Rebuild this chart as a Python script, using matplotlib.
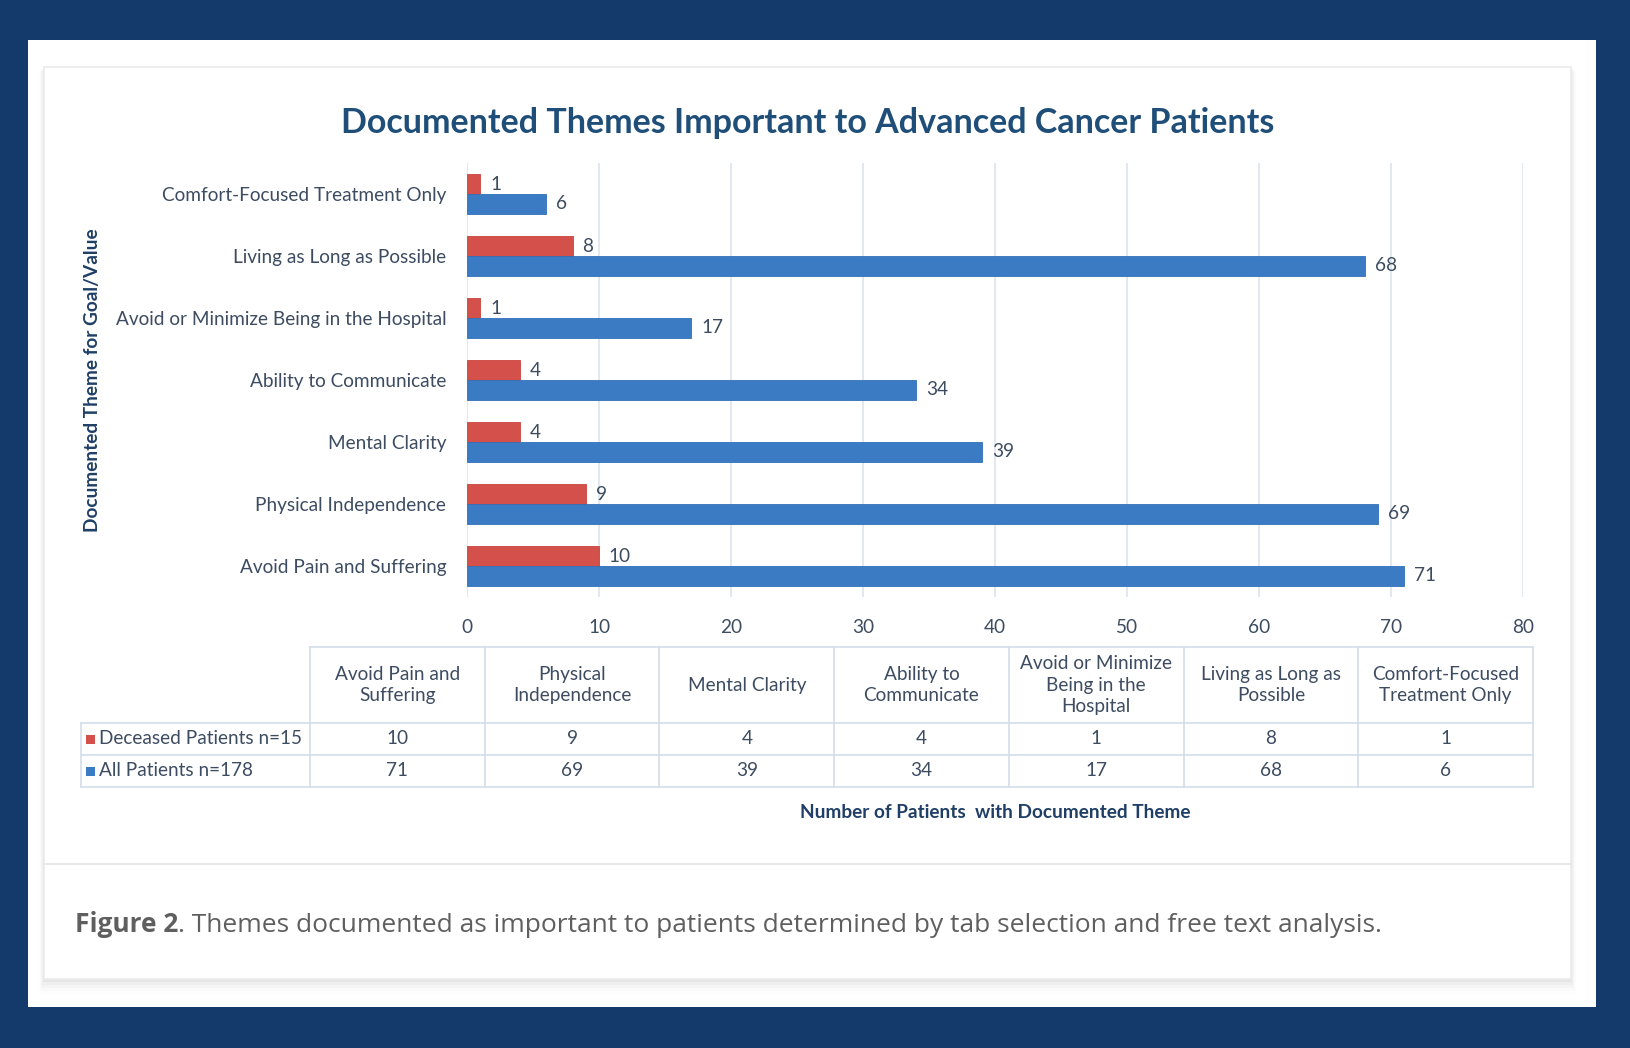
import matplotlib
matplotlib.use("Agg")
import matplotlib.pyplot as plt
from matplotlib.patches import Rectangle
import numpy as np

# ---------------- data ----------------
categories = ["Avoid Pain and Suffering", "Physical Independence", "Mental Clarity",
              "Ability to Communicate", "Avoid or Minimize Being in the Hospital",
              "Living as Long as Possible", "Comfort-Focused Treatment Only"]
table_headers = ["Avoid Pain and\nSuffering", "Physical\nIndependence", "Mental Clarity",
                 "Ability to\nCommunicate", "Avoid or Minimize\nBeing in the\nHospital",
                 "Living as Long as\nPossible", "Comfort-Focused\nTreatment Only"]
deceased = [10, 9, 4, 4, 1, 8, 1]
all_patients = [71, 69, 39, 34, 17, 68, 6]
series_names = ["Deceased Patients n=15", "All Patients n=178"]
x_ticks = [0, 10, 20, 30, 40, 50, 60, 70, 80]

title = "Documented Themes Important to Advanced Cancer Patients"
xlabel = "Number of Patients  with Documented Theme"
ylabel = "Documented Theme for Goal/Value"
caption_bold = "Figure 2"
caption_rest = ". Themes documented as important to patients determined by tab selection and free text analysis."

# ---------------- style ----------------
NAVY = "#143a6c"
RED = "#d4504b"
BLUE = "#3b7bc3"
GRID = "#d9e2eb"
TXT = "#3d4c61"
TITLE_C = "#1f4e79"
FONT = "Lato"
FS = 13.7

W, H = 1630, 1048
fig = plt.figure(figsize=(W / 100, H / 100), dpi=100)
fig.patch.set_facecolor(NAVY)

bg = fig.add_axes([0, 0, 1, 1])
bg.set_xlim(0, W)
bg.set_ylim(H, 0)
bg.axis("off")
bg.set_zorder(0)

# white card
bg.add_patch(Rectangle((28, 40), 1596 - 28, 1007 - 40, facecolor="white", edgecolor="none"))
# soft shadow of panel
for i, a in enumerate([0.035, 0.025, 0.018, 0.012, 0.008]):
    d = 2 + i * 2
    bg.add_patch(Rectangle((44 - d / 2, 67 + d / 2), 1571 - 44 + d, 979 - 67 + d,
                           facecolor="black", alpha=a, edgecolor="none"))
# panel
bg.add_patch(Rectangle((44, 67), 1571 - 44, 979 - 67, facecolor="white",
                       edgecolor="#ebebeb", linewidth=1.2))
bg.plot([44, 1571], [864, 864], color="#e8e8e8", lw=1.5)

# caption
t1 = bg.text(75, 925, caption_bold, fontsize=19, fontweight="bold", color="#5f5f5f",
             family="Open Sans", va="center", ha="left")
fig.canvas.draw()
bb = t1.get_window_extent()
x_end = bb.x1
bg.text(x_end, 925, caption_rest, fontsize=19, color="#5f5f5f",
        family="Open Sans", va="center", ha="left")

# title
bg.text(808, 123, title, fontsize=24.5, fontweight="bold", color=TITLE_C,
        family=FONT, ha="center", va="center")
# axis labels
bg.text(995, 812, xlabel, fontsize=FS, fontweight="bold", color="#1f3f66",
        family=FONT, ha="center", va="center")
bg.text(93, 380, ylabel, fontsize=FS, fontweight="bold", color="#1f3f66",
        family=FONT, ha="center", va="center", rotation=90)

# ---------------- bar chart ----------------
ax = fig.add_axes([467 / W, 1 - 597 / H, 1056 / W, 434 / H])
ax.set_zorder(1)
ax.patch.set_alpha(0)
y = np.arange(len(categories))
h = 0.32
ax.barh(y + h / 2, deceased, height=h, color=RED, edgecolor="#c9433e", linewidth=0.6, zorder=3)
ax.barh(y - h / 2, all_patients, height=h, color=BLUE, edgecolor="#3170b8", linewidth=0.6, zorder=3)
for yi, v in zip(y, deceased):
    ax.text(v + 0.75, yi + h / 2, str(v), va="center", ha="left", fontsize=FS,
            color=TXT, family=FONT)
for yi, v in zip(y, all_patients):
    ax.text(v + 0.75, yi - h / 2, str(v), va="center", ha="left", fontsize=FS,
            color=TXT, family=FONT)
ax.set_xlim(0, 80)
ax.set_ylim(-0.5, len(categories) - 0.5)
ax.set_xticks(x_ticks)
ax.set_xticklabels([str(t) for t in x_ticks], fontsize=FS, color=TXT, family=FONT)
ax.set_yticks(y)
ax.set_yticklabels(categories, fontsize=FS, color=TXT, family=FONT)
ax.tick_params(axis="both", length=0)
ax.tick_params(axis="x", pad=16)
ax.tick_params(axis="y", pad=15)
ax.grid(axis="x", color=GRID, linewidth=1.1, zorder=0)
for s in ax.spines.values():
    s.set_visible(False)

# ---------------- data table ----------------
LC = "#d3deea"
xl0, xl1 = 81, 310
ncol = len(table_headers)
cw = (1533 - xl1) / ncol
ys = [647, 723, 755, 787]
xs = [xl1 + i * cw for i in range(ncol + 1)]
bg.plot([xl1, xs[-1]], [ys[0], ys[0]], color=LC, lw=1.2)
for yy in ys[1:]:
    bg.plot([xl0, xs[-1]], [yy, yy], color=LC, lw=1.2)
for xx in xs:
    bg.plot([xx, xx], [ys[0], ys[3]], color=LC, lw=1.2)
bg.plot([xl0, xl0], [ys[1], ys[3]], color=LC, lw=1.2)

for i, lab in enumerate(table_headers):
    cx = (xs[i] + xs[i + 1]) / 2
    bg.text(cx, (ys[0] + ys[1]) / 2, lab, fontsize=FS, color=TXT, family=FONT,
            ha="center", va="center", linespacing=1.35)
    bg.text(cx, (ys[1] + ys[2]) / 2, str(deceased[i]), fontsize=FS, color=TXT,
            family=FONT, ha="center", va="center")
    bg.text(cx, (ys[2] + ys[3]) / 2, str(all_patients[i]), fontsize=FS, color=TXT,
            family=FONT, ha="center", va="center")

for r, (name, col) in enumerate(zip(series_names, [RED, BLUE])):
    cy = (ys[1 + r] + ys[2 + r]) / 2
    bg.add_patch(Rectangle((86, cy - 4.5), 9, 9, facecolor=col, edgecolor="none"))
    bg.text(99, cy, name, fontsize=FS, color=TXT, family=FONT, ha="left", va="center")

fig.savefig("out.png", dpi=100, facecolor=fig.get_facecolor())
